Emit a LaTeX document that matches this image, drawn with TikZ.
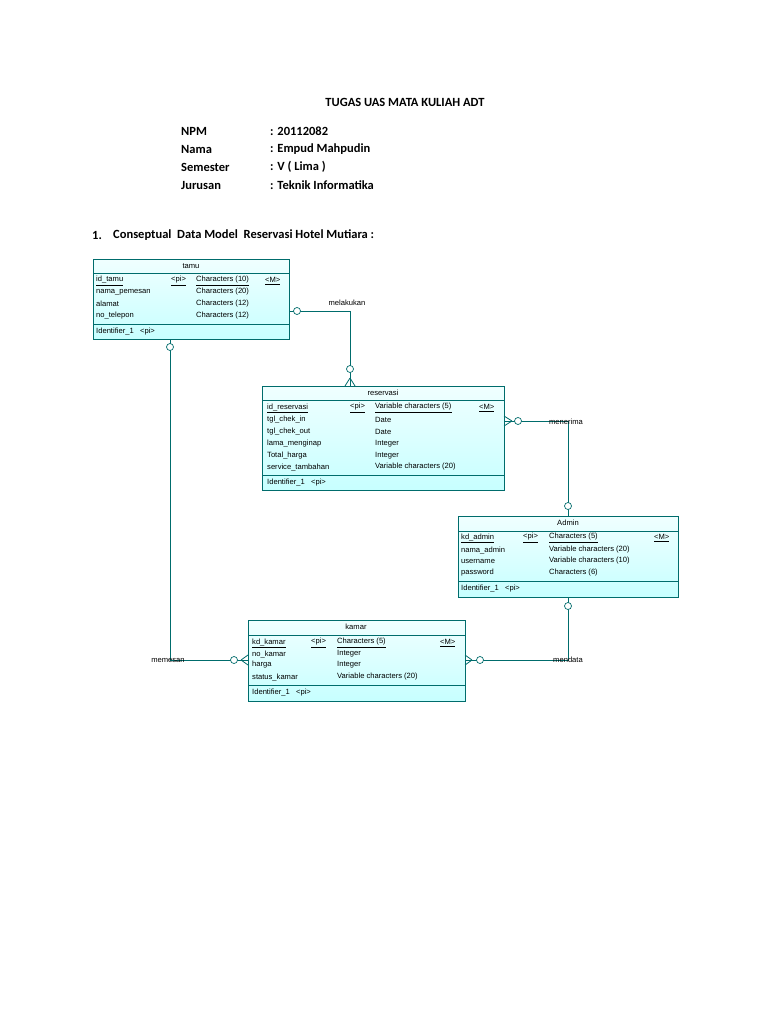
\documentclass[tikz,border=0pt]{standalone}
\usepackage{fontspec}
\setmainfont{Liberation Sans}
\newfontfamily\hdr{Carlito}
\begin{document}
\begin{tikzpicture}[x=1pt,y=-1pt,
  ent/.style={draw=teal!85!black,line width=0.7pt,top color=cyan!6,bottom color=cyan!22},
  sep/.style={draw=teal!85!black,line width=0.6pt},
  lnk/.style={draw=teal!85!black,line width=0.8pt},
  ci/.style={circle,draw=teal!85!black,fill=white,line width=0.7pt,inner sep=0pt,minimum size=7pt},
  tx/.style={anchor=west,inner sep=0pt,font=\fontsize{7.6}{8}\selectfont},
  ttl/.style={inner sep=0pt,font=\fontsize{7.6}{8}\selectfont},
  hd/.style={anchor=west,inner sep=0pt,font=\hdr\bfseries\fontsize{12.5}{14}\selectfont}]
\useasboundingbox (0,0) rectangle (768,1024);
\fill[white] (0,0) rectangle (768,1024);
% header
\node[hd,anchor=center] (title) at (405,102) {TUGAS UAS MATA KULIAH ADT};
\node[hd] (l1a) at (181,131) {NPM}; \node[hd] (l1b) at (270,131) {: 20112082};
\node[hd] (l2a) at (181,149) {Nama}; \node[hd] (l2b) at (270,149) {: Empud Mahpudin};
\node[hd] (l3a) at (181,167) {Semester}; \node[hd] (l3b) at (270,167) {: V ( Lima )};
\node[hd] (l4a) at (181,185) {Jurusan}; \node[hd] (l4b) at (270,185) {: Teknik Informatika};
\node[hd] (s1) at (92,235) {1.}; \node[hd] (s1b) at (113,235) {Conseptual\ \ Data Model\ \ Reservasi Hotel Mutiara :};

% tamu
\path[ent] (93,259) rectangle (289,339);
\draw[sep] (93,273) -- (289,273); \draw[sep] (93,324) -- (289,324);
\node[ttl] (tamu) at (191,266) {tamu};
\node[tx] (t1) at (96,281) {\underline{id\_tamu}}; \node[tx] (t1p) at (171,281) {\underline{<pi>}}; \node[tx] (t1t) at (196,281) {\underline{Characters (10)}}; \node[tx] (t1m) at (265,281) {\underline{<M>}};
\node[tx] (t2) at (96,292) {nama\_pemesan}; \node[tx] (t2t) at (196,292) {Characters (20)};
\node[tx] (t3) at (96,304) {alamat}; \node[tx] (t3t) at (196,304) {Characters (12)};
\node[tx] (t4) at (96,316) {no\_telepon}; \node[tx] (t4t) at (196,316) {Characters (12)};
\node[tx] (ti) at (96,332) {Identifier\_1\ \ \ <pi>};

% reservasi
\path[ent] (262,386) rectangle (504,490);
\draw[sep] (262,400) -- (504,400); \draw[sep] (262,475) -- (504,475);
\node[ttl] (res) at (383,393) {reservasi};
\node[tx] (r1) at (267,408) {\underline{id\_reservasi}}; \node[tx] (r1p) at (350,408) {\underline{<pi>}}; \node[tx] (r1t) at (375,408) {\underline{Variable characters (5)}}; \node[tx] (r1m) at (479,408) {\underline{<M>}};
\node[tx] (r2) at (267,420) {tgl\_chek\_in}; \node[tx] (r2t) at (375,420) {Date};
\node[tx] (r3) at (267,432) {tgl\_chek\_out}; \node[tx] (r3t) at (375,432) {Date};
\node[tx] (r4) at (267,444) {lama\_menginap}; \node[tx] (r4t) at (375,444) {Integer};
\node[tx] (r5) at (267,456) {Total\_harga}; \node[tx] (r5t) at (375,456) {Integer};
\node[tx] (r6) at (267,467) {service\_tambahan}; \node[tx] (r6t) at (375,467) {Variable characters (20)};
\node[tx] (ri) at (267,483) {Identifier\_1\ \ \ <pi>};

% Admin
\path[ent] (458,516) rectangle (678,597);
\draw[sep] (458,531) -- (678,531); \draw[sep] (458,581) -- (678,581);
\node[ttl] (adm) at (568,523) {Admin};
\node[tx] (a1) at (461,538) {\underline{kd\_admin}}; \node[tx] (a1p) at (523,538) {\underline{<pi>}}; \node[tx] (a1t) at (549,538) {\underline{Characters (5)}}; \node[tx] (a1m) at (654,538) {\underline{<M>}};
\node[tx] (a2) at (461,550) {nama\_admin}; \node[tx] (a2t) at (549,550) {Variable characters (20)};
\node[tx] (a3) at (461,561) {username}; \node[tx] (a3t) at (549,561) {Variable characters (10)};
\node[tx] (a4) at (461,573) {password}; \node[tx] (a4t) at (549,573) {Characters (6)};
\node[tx] (ai) at (461,589) {Identifier\_1\ \ \ <pi>};

% kamar
\path[ent] (248,620) rectangle (465,701);
\draw[sep] (248,635) -- (465,635); \draw[sep] (248,685) -- (465,685);
\node[ttl] (kam) at (356,627) {kamar};
\node[tx] (k1) at (252,643) {\underline{kd\_kamar}}; \node[tx] (k1p) at (311,643) {\underline{<pi>}}; \node[tx] (k1t) at (337,643) {\underline{Characters (5)}}; \node[tx] (k1m) at (440,643) {\underline{<M>}};
\node[tx] (k2) at (252,654) {no\_kamar}; \node[tx] (k2t) at (337,654) {Integer};
\node[tx] (k3) at (252,665) {harga}; \node[tx] (k3t) at (337,665) {Integer};
\node[tx] (k4) at (252,677) {status\_kamar}; \node[tx] (k4t) at (337,677) {Variable characters (20)};
\node[tx] (ki) at (252,693) {Identifier\_1\ \ \ <pi>};

% melakukan
\coordinate (m1) at (289,311); \coordinate (m2) at (350,311); \coordinate (m3) at (350,386);
\draw[lnk] (m1) -- (m2) -- (m3);
\draw[lnk] (350,378) -- (345,386) (350,378) -- (355,386);
\node[ci] (mc1) at (297,311) {}; \node[ci] (mc2) at (350,369) {};
\node[ttl] (mlab) at (347,303) {melakukan};

% menerima
\coordinate (n1) at (504,421); \coordinate (n2) at (568,421); \coordinate (n3) at (568,516);
\draw[lnk] (n1) -- (n2) -- (n3);
\draw[lnk] (512,421) -- (504,416) (512,421) -- (504,426);
\node[ci] (nc1) at (518,421) {}; \node[ci] (nc2) at (568,506) {};
\node[ttl,fill=white,fill opacity=0,text opacity=1] (nlab) at (566,422) {menerima};

% memesan
\coordinate (p1) at (170,339); \coordinate (p2) at (170,660); \coordinate (p3) at (248,660);
\draw[lnk] (p1) -- (p2) -- (p3);
\draw[lnk] (241,660) -- (248,655) (241,660) -- (248,665);
\node[ci] (pc1) at (170,347) {}; \node[ci] (pc2) at (234,660) {};
\node[ttl] (plab) at (168,660) {memesan};

% mendata
\coordinate (q1) at (568,597); \coordinate (q2) at (568,660); \coordinate (q3) at (465,660);
\draw[lnk] (q1) -- (q2) -- (q3);
\draw[lnk] (472,660) -- (465,655) (472,660) -- (465,665);
\node[ci] (qc1) at (568,606) {}; \node[ci] (qc2) at (480,660) {};
\node[ttl] (qlab) at (568,660) {mendata};
\end{tikzpicture}
\end{document}
